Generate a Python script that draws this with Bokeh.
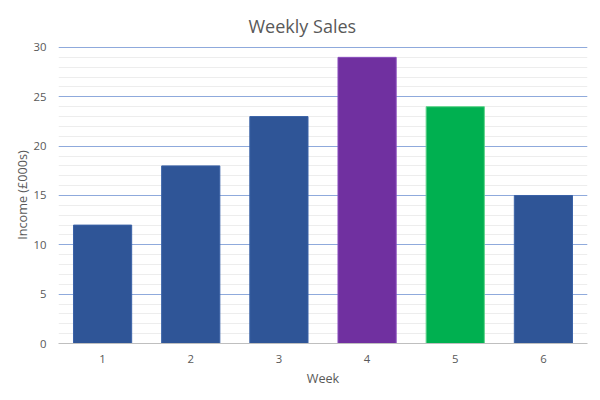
from bokeh.plotting import figure
from bokeh.models import ColumnDataSource, SingleIntervalTicker, Range1d
from bokeh.embed import file_html
from bokeh.resources import INLINE

weeks = ["1", "2", "3", "4", "5", "6"]
income = [12, 18, 23, 29, 24, 15]
bar_colors = ["#2F5597", "#2F5597", "#2F5597", "#7030A0", "#00B050", "#2F5597"]
edge_colors = ["#3A62A7", "#3A62A7", "#3A62A7", "#8A4DBD", "#5ED38A", "#3A62A7"]

src = ColumnDataSource(dict(week=weeks, income=income, fill=bar_colors, edge=edge_colors))

FONT = "Open Sans"
GREY = "#595959"

p = figure(width=600, height=400, x_range=weeks, y_range=Range1d(0, 30.1),
           output_backend="svg", toolbar_location=None,
           title="Weekly Sales")
p.min_border_left = 58
p.min_border_right = 13
p.min_border_top = 46
p.min_border_bottom = 57
p.outline_line_color = None
p.background_fill_color = "white"
p.border_fill_color = "white"

p.title.align = "left"
p.title.offset = 190
p.title.standoff = 18
p.title.text_font = FONT
p.title.text_font_size = "13.5pt"
p.title.text_font_style = "normal"
p.title.text_color = GREY

p.vbar(x="week", top="income", width=0.66, source=src,
       fill_color="fill", line_color="edge", line_width=1)

p.yaxis.ticker = SingleIntervalTicker(interval=5, num_minor_ticks=5)
p.ygrid.ticker = p.yaxis.ticker
p.ygrid.grid_line_color = "#8FAADC"
p.ygrid.grid_line_width = 1
p.ygrid.minor_grid_line_color = "#EDEDED"
p.ygrid.minor_grid_line_width = 1
p.xgrid.grid_line_color = None

for ax in (p.xaxis, p.yaxis):
    ax.major_tick_line_color = None
    ax.minor_tick_line_color = None
    ax.major_tick_out = 0
    ax.minor_tick_out = 0
    ax.major_tick_in = 0
    ax.major_label_text_font = FONT
    ax.major_label_text_font_size = "8.5pt"
    ax.major_label_text_color = GREY
    ax.axis_label_text_font = FONT
    ax.axis_label_text_font_size = "9.5pt"
    ax.axis_label_text_font_style = "normal"
    ax.axis_label_text_color = GREY

p.yaxis.axis_line_color = None
p.xaxis.axis_line_color = "#BFBFBF"
p.yaxis.axis_label = "Income (£000s)"
p.xaxis.axis_label = "Week"
p.yaxis.major_label_standoff = 12
p.yaxis.axis_label_standoff = 0
p.xaxis.major_label_standoff = 11
p.xaxis.axis_label_standoff = 3

open("out.html", "w").write(file_html(p, INLINE))
